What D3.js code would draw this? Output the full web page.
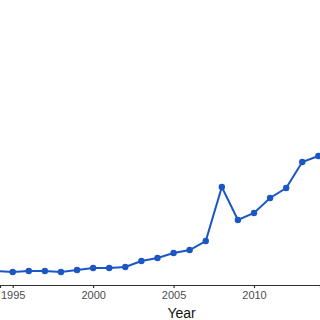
<!DOCTYPE html>
<html>
  <head>
    <meta charset="utf-8">
    <style>
      body { margin: 0; background: #fff; }
      svg { display: block; }
      .axis text { font-family: "Liberation Sans", Arial, sans-serif; font-size: 11px; fill: #4d4d4d; }
      .axis path, .axis line { stroke: #333; stroke-width: 1.2; }
    </style>
  </head>
  <body>
    <div id="chart"></div>
    <script src="https://d3js.org/d3.v7.min.js"></script>
    <script>
      // values (no y axis shown, so units are relative)
      const years = [1994, 1995, 1996, 1997, 1998, 1999, 2000, 2001, 2002, 2003, 2004,
                     2005, 2006, 2007, 2008, 2009, 2010, 2011, 2012, 2013, 2014, 2015]
      const counts = [9, 8, 9, 9, 8, 10, 12, 12, 13, 19, 22,
                      27, 30, 39, 93, 60, 67, 82, 92, 118, 124, 132]
      const tickYears = [1995, 2000, 2005, 2010]

      const width = 320, height = 320
      const axisY = 285

      const svg = d3.select("#chart")
        .append("svg")
        .attr("width", width)
        .attr("height", height)

      const x = d3.scaleLinear()
        .domain([1995, 2010])
        .range([12.7, 254])

      const y = d3.scaleLinear()
        .domain([0, 100])
        .range([280, 180])

      // axis spans the whole visible width
      const xAxisScale = x.copy()
        .domain([x.invert(0), x.invert(width)])
        .range([0, width])

      svg.append("g")
        .attr("class", "axis")
        .attr("transform", "translate(0," + axisY + ")")
        .call(d3.axisBottom(xAxisScale)
          .tickValues(tickYears)
          .tickFormat(d3.format("d"))
          .tickSizeOuter(0)
          .tickSize(3)
          .tickPadding(3))

      svg.append("text")
        .attr("x", x(2005.5))
        .attr("y", 318)
        .attr("text-anchor", "middle")
        .style("font-family", "Liberation Sans, Arial, sans-serif")
        .style("font-size", "14px")
        .style("fill", "#111")
        .text("Year")

      const data = years.map((yr, i) => ({ yr: yr, v: counts[i] }))

      const line = d3.line()
        .x(d => x(d.yr))
        .y(d => y(d.v))

      svg.append("path")
        .attr("d", line(data))
        .attr("fill", "none")
        .attr("stroke", "#1a56c4")
        .attr("stroke-width", 2)

      svg.selectAll("circle")
        .data(data)
        .join("circle")
        .attr("cx", d => x(d.yr))
        .attr("cy", d => y(d.v))
        .attr("r", 3.2)
        .attr("fill", "#1a56c4")
    </script>
  </body>
</html>
